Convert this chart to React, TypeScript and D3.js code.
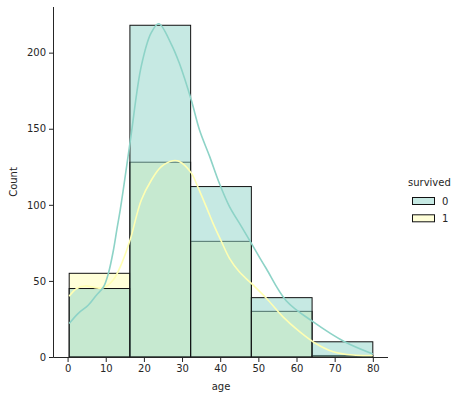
import React, { useRef, useEffect } from 'react';
import * as d3 from 'd3';

// histogram bins (age), counts per survived group
const binEdges = [0.42, 16.336, 32.252, 48.168, 64.084, 80];
const countsDied = [45, 218, 112, 39, 10];
const countsSurvived = [55, 128, 76, 30, 1];

// kde curves (age, count)
const kdeAgesDied = [0.42, 2.8, 5.4, 7.6, 9.4, 10.7, 12, 12.9, 13.8, 14.6, 16.6, 19.3, 21.9, 23.9, 27.1, 29.3, 32.4, 34.6, 37.2, 39.8, 42.4, 45.5, 48.1, 50.3, 52.1, 57.3, 64.3, 72.6, 80];
const kdeCountsDied = [22, 28.7, 34, 40.8, 46, 55, 70, 83.5, 96.7, 110, 145, 191, 213, 219, 206, 193, 169, 149, 132, 114, 99, 86, 75, 65.5, 58, 37, 23.2, 10, 2];
const kdeAgesSurvived = [0.42, 2.4, 4.6, 7.2, 9.4, 12, 14.2, 16.4, 19.3, 21.9, 24.5, 27.6, 29.3, 32.4, 34.1, 36.3, 38.1, 40.3, 42.4, 45, 48.1, 52.1, 56.4, 60.8, 64.7, 69.6, 74.8, 80];
const kdeCountsSurvived = [40, 45, 46.7, 45.6, 45.5, 50.7, 61.6, 77, 103, 116, 125, 129, 128.5, 121, 112, 99, 88, 76, 65, 56, 48.5, 38.6, 26.5, 16.6, 9.4, 3.5, 1.3, 1];

const xTicks = [0, 10, 20, 30, 40, 50, 60, 70, 80];
const yTicks = [0, 50, 100, 150, 200];
const hueLabels = ['0', '1'];
const hueColors = ['#8dd3c7', '#ffffb3'];

const App: React.FC = () => {
  const svgRef = useRef<SVGSVGElement>(null);

  useEffect(() => {
    const svg = d3.select(svgRef.current);
    svg.selectAll('*').remove();

    const left = 54, right = 388, top = 7, bottom = 357;
    const font = 'DejaVu Sans, sans-serif';
    const ink = '#262626';

    const x = d3.scaleLinear().domain([-3.56, 83.98]).range([left, right]);
    const y = d3.scaleLinear().domain([0, 230]).range([bottom, top]);

    const bars = (counts: number[], color: string) => {
      svg.append('g')
        .selectAll('rect')
        .data(counts)
        .enter()
        .append('rect')
        .attr('x', (_, i) => x(binEdges[i]))
        .attr('y', d => y(d))
        .attr('width', (_, i) => x(binEdges[i + 1]) - x(binEdges[i]))
        .attr('height', d => y(0) - y(d))
        .attr('fill', color)
        .attr('fill-opacity', 0.5)
        .attr('stroke', '#111')
        .attr('stroke-width', 1);
    };
    // later hue underneath, first hue on top
    bars(countsSurvived, hueColors[1]);
    bars(countsDied, hueColors[0]);

    const line = d3.line<[number, number]>()
      .x(d => x(d[0]))
      .y(d => y(d[1]))
      .curve(d3.curveCatmullRom.alpha(0.5));

    const kdes: [number[], number[], string][] = [
      [kdeAgesSurvived, kdeCountsSurvived, hueColors[1]],
      [kdeAgesDied, kdeCountsDied, hueColors[0]],
    ];
    kdes.forEach(([ages, counts, color]) => {
      svg.append('path')
        .datum(ages.map((a, i) => [a, counts[i]] as [number, number]))
        .attr('d', line)
        .attr('fill', 'none')
        .attr('stroke', color)
        .attr('stroke-width', 1.6);
    });

    // axes
    const xAxis = svg.append('g')
      .attr('transform', `translate(0,${bottom + 0.5})`)
      .call(d3.axisBottom(x).tickValues(xTicks).tickSize(4.5).tickPadding(3));
    const yAxis = svg.append('g')
      .attr('transform', `translate(${left - 0.5},0)`)
      .call(d3.axisLeft(y).tickValues(yTicks).tickSize(4.5).tickPadding(3));
    [xAxis, yAxis].forEach(a => {
      a.select('.domain').attr('stroke', ink).attr('stroke-width', 1);
      a.selectAll('.tick line').attr('stroke', ink).attr('stroke-width', 1);
      a.selectAll('.tick text')
        .attr('fill', ink)
        .style('font-family', font)
        .style('font-size', '10px');
    });
    yAxis.select('.domain').attr('d', `M0,${bottom + 0.5}V${top}`);
    xAxis.select('.domain').attr('d', `M${left - 0.5},0H${right}`);

    svg.append('text')
      .attr('x', (left + right) / 2)
      .attr('y', 390)
      .attr('text-anchor', 'middle')
      .attr('fill', ink)
      .style('font-family', font)
      .style('font-size', '10px')
      .text('age');

    svg.append('text')
      .attr('transform', `translate(17,${(top + bottom) / 2}) rotate(-90)`)
      .attr('text-anchor', 'middle')
      .attr('fill', ink)
      .style('font-family', font)
      .style('font-size', '10px')
      .text('Count');

    // legend
    const lg = svg.append('g').attr('transform', 'translate(408,0)');
    lg.append('text')
      .attr('x', 0)
      .attr('y', 186)
      .attr('fill', ink)
      .style('font-family', font)
      .style('font-size', '10px')
      .text('survived');
    hueLabels.forEach((lab, i) => {
      const yy = 197 + i * 17.3;
      lg.append('rect')
        .attr('x', 4.5)
        .attr('y', yy + 0.5)
        .attr('width', 22)
        .attr('height', 7)
        .attr('fill', hueColors[i])
        .attr('fill-opacity', 0.5)
        .attr('stroke', '#111')
        .attr('stroke-width', 1);
      lg.append('text')
        .attr('x', 34)
        .attr('y', yy + 7.5)
        .attr('fill', ink)
        .style('font-family', font)
        .style('font-size', '10px')
        .text(lab);
    });
  }, []);

  return (
    <svg
      ref={svgRef}
      width={465}
      height={400}
      style={{ position: 'absolute', left: 0, top: 0, background: '#fff' }}
    />
  );
};

export default App;
